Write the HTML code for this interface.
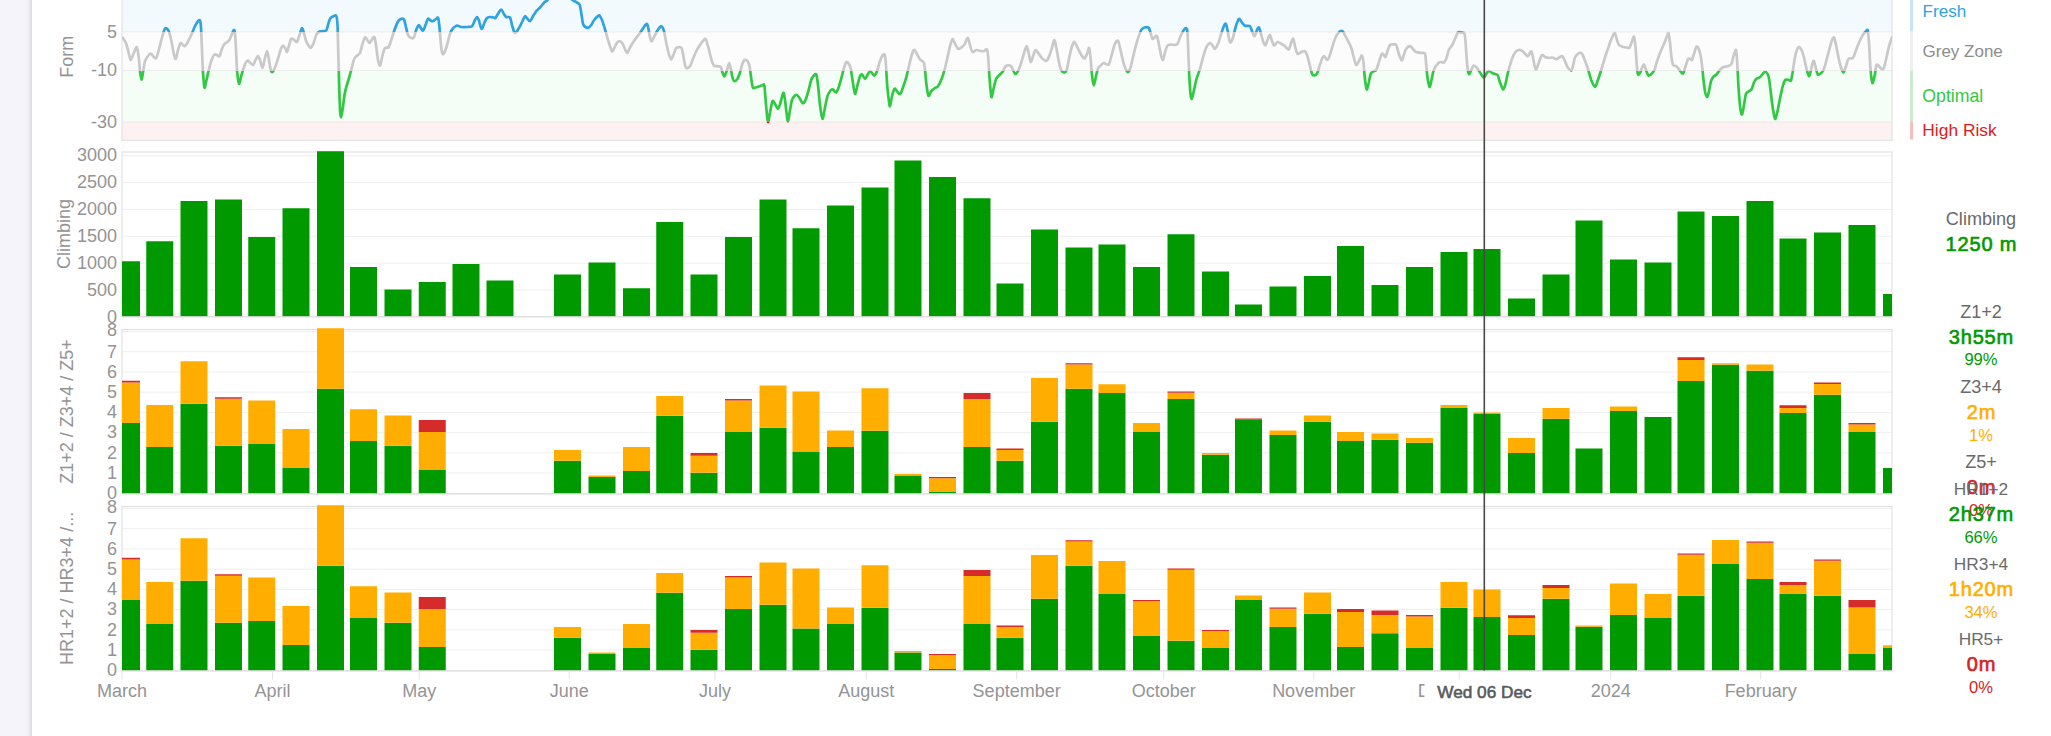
<!DOCTYPE html>
<html lang="en"><head><meta charset="utf-8"><title>Fitness</title>
<style>html,body{margin:0;padding:0;background:#fff;overflow:hidden}svg{display:block}</style>
</head><body>
<svg width="2051" height="736" viewBox="0 0 2051 736" font-family="'Liberation Sans', Arial, sans-serif">
<defs>
<linearGradient id="sb" x1="0" x2="1" y1="0" y2="0"><stop offset="0" stop-color="#f4f4fa"/><stop offset="0.55" stop-color="#eeedf3"/><stop offset="1" stop-color="#dbdae0"/></linearGradient>
<linearGradient id="fl" gradientUnits="userSpaceOnUse" x1="0" y1="0" x2="0" y2="140">
<stop offset="0" stop-color="#2ea3de"/><stop offset="0.2268" stop-color="#2ea3de"/>
<stop offset="0.2268" stop-color="#c9c9c9"/><stop offset="0.5036" stop-color="#c9c9c9"/>
<stop offset="0.5036" stop-color="#33c844"/><stop offset="0.8714" stop-color="#33c844"/>
<stop offset="0.8714" stop-color="#e02020"/><stop offset="1" stop-color="#e02020"/>
</linearGradient>
<clipPath id="cf"><rect x="122" y="0" width="1770" height="140"/></clipPath>
<clipPath id="cc"><rect x="122" y="150" width="1770" height="167"/></clipPath>
<clipPath id="cz"><rect x="122" y="327" width="1770" height="167"/></clipPath>
<clipPath id="ch"><rect x="122" y="504" width="1770" height="167"/></clipPath>
</defs>
<rect width="2051" height="736" fill="#fff"/>
<rect x="0" y="0" width="25" height="736" fill="#f4f4fa"/>
<rect x="25" y="0" width="7" height="736" fill="url(#sb)"/>
<g id="form">
<rect x="122.0" y="0" width="1770.0" height="31.75" fill="#f3fafe"/>
<rect x="122.0" y="31.75" width="1770.0" height="38.75" fill="#fcfcfc"/>
<rect x="122.0" y="70.5" width="1770.0" height="51.5" fill="#f4fdf6"/>
<rect x="122.0" y="122" width="1770.0" height="18" fill="#fdf2f1"/>
<rect x="122.0" y="31.4" width="1770.0" height="1" fill="#ebecec"/>
<rect x="122.0" y="70.1" width="1770.0" height="1" fill="#e9eeea"/>
<rect x="122.0" y="121.6" width="1770.0" height="1" fill="#f0e6e5"/>
<rect x="121.5" y="0" width="1" height="140.5" fill="#dedede"/>
<rect x="1891.5" y="0" width="1" height="140.5" fill="#dedede"/>
<rect x="121.5" y="139.75" width="1771.0" height="1" fill="#dedede"/>
<path d="M122.5,37.5 C123.0,38.4 125.2,40.8 126.2,43.8 C127.3,46.7 129.3,55.8 130.0,58.0 C130.7,60.2 130.5,60.4 131.2,59.2 C132.0,58.1 134.2,51.7 135.0,50.0 C135.8,48.3 136.5,46.4 137.0,47.5 C137.5,48.6 138.3,54.1 138.8,57.5 C139.2,60.9 139.6,68.1 140.0,71.2 C140.4,74.4 141.1,79.3 141.5,79.5 C141.9,79.7 142.5,75.1 143.0,72.5 C143.5,69.9 144.2,63.7 145.0,61.2 C145.8,58.8 147.9,56.1 148.8,55.0 C149.6,53.9 150.5,53.5 151.2,53.8 C152.0,54.0 153.0,56.4 153.8,57.0 C154.5,57.6 155.5,59.0 156.2,58.0 C157.0,57.0 157.9,52.9 158.8,50.0 C159.6,47.1 161.2,40.4 162.0,37.5 C162.8,34.6 163.9,30.8 164.5,29.5 C165.1,28.2 165.6,28.0 166.2,28.2 C166.9,28.5 168.0,29.6 168.8,31.2 C169.5,32.9 170.5,36.8 171.2,40.0 C172.0,43.2 173.1,51.1 173.8,53.8 C174.4,56.4 175.1,59.3 175.8,58.8 C176.4,58.2 177.3,52.2 178.0,50.0 C178.7,47.8 179.9,43.8 180.5,43.0 C181.1,42.2 181.9,44.0 182.5,44.5 C183.1,45.0 184.3,46.5 185.0,46.2 C185.7,46.0 186.6,44.1 187.5,42.5 C188.4,40.9 190.2,37.3 191.2,35.0 C192.3,32.7 194.0,28.2 195.0,26.2 C196.0,24.3 197.3,22.1 198.0,21.2 C198.7,20.4 199.6,19.6 200.0,20.5 C200.4,21.4 200.7,23.3 201.0,27.5 C201.3,31.7 201.7,43.6 202.0,50.0 C202.3,56.4 202.6,67.2 203.0,72.5 C203.4,77.8 204.0,86.3 204.5,87.5 C205.0,88.7 205.6,83.7 206.2,81.2 C206.9,78.8 207.9,73.2 208.8,70.0 C209.6,66.8 211.2,60.9 212.0,58.8 C212.8,56.6 213.8,55.0 214.5,54.5 C215.2,54.0 216.3,54.8 217.0,55.0 C217.7,55.2 218.8,57.1 219.5,56.2 C220.2,55.4 221.3,50.5 222.0,48.8 C222.7,47.0 223.7,44.7 224.5,43.8 C225.3,42.8 226.7,42.7 227.5,42.0 C228.3,41.3 229.3,40.1 230.0,38.8 C230.7,37.4 231.9,33.7 232.5,32.5 C233.1,31.3 234.0,28.7 234.5,30.5 C235.0,32.3 235.4,39.4 235.8,45.0 C236.1,50.6 236.5,64.5 237.0,70.0 C237.5,75.5 238.4,82.9 239.0,83.8 C239.6,84.6 240.6,78.6 241.2,76.2 C241.9,73.9 243.0,69.5 243.8,67.5 C244.5,65.5 245.6,63.0 246.2,62.0 C246.9,61.0 247.5,60.4 248.0,60.5 C248.5,60.6 249.3,61.9 250.0,62.5 C250.7,63.1 252.2,65.4 253.0,65.0 C253.8,64.6 254.8,61.2 255.5,60.0 C256.2,58.8 257.4,56.2 258.0,56.2 C258.6,56.2 259.4,58.3 260.0,60.0 C260.6,61.7 261.9,68.0 262.5,68.0 C263.1,68.0 263.9,62.4 264.5,60.0 C265.1,57.6 266.4,51.4 267.0,51.2 C267.6,51.1 268.2,56.1 268.8,58.8 C269.3,61.4 270.2,68.1 270.8,70.0 C271.3,71.9 271.9,72.4 272.5,72.0 C273.1,71.6 274.2,69.4 275.0,67.5 C275.8,65.6 277.2,61.2 278.0,58.8 C278.8,56.3 279.8,51.9 280.5,50.0 C281.2,48.1 282.3,45.7 283.0,45.5 C283.7,45.3 284.9,47.9 285.5,48.8 C286.1,49.6 286.4,52.5 287.0,51.8 C287.6,51.0 288.9,45.6 289.5,43.8 C290.1,41.9 290.6,39.4 291.2,38.8 C291.9,38.1 292.9,39.0 293.8,39.5 C294.6,40.0 296.2,42.6 297.0,42.0 C297.8,41.4 298.8,36.9 299.5,35.0 C300.2,33.1 301.4,28.6 302.0,28.2 C302.6,27.9 303.1,30.7 303.8,32.5 C304.4,34.3 305.4,39.2 306.2,41.2 C307.1,43.3 308.8,46.1 309.5,47.0 C310.2,47.9 310.6,48.1 311.2,47.5 C311.9,46.9 313.0,44.3 313.8,42.5 C314.5,40.7 315.5,36.5 316.2,35.0 C317.0,33.5 317.9,32.5 318.8,32.0 C319.6,31.5 321.4,31.5 322.5,31.2 C323.6,31.0 325.5,31.4 326.2,30.5 C327.0,29.6 327.5,26.7 328.0,25.0 C328.5,23.3 329.4,19.9 330.0,18.8 C330.6,17.6 331.6,17.2 332.5,16.8 C333.4,16.3 335.5,14.6 336.2,15.8 C337.0,16.9 337.2,20.1 337.5,25.0 C337.8,29.9 338.0,41.1 338.2,50.0 C338.5,58.9 339.0,79.0 339.2,87.5 C339.5,96.0 339.8,105.8 340.0,110.0 C340.2,114.2 340.6,117.5 341.0,117.5 C341.4,117.5 342.0,113.2 342.5,110.0 C343.0,106.8 344.0,98.2 344.5,95.0 C345.0,91.8 345.6,89.8 346.2,87.5 C346.9,85.2 348.0,81.2 348.8,78.8 C349.5,76.3 350.5,72.7 351.2,70.0 C352.0,67.3 353.0,61.9 353.8,60.0 C354.5,58.1 355.4,57.2 356.2,56.2 C357.1,55.3 359.1,54.8 360.0,53.0 C360.9,51.2 361.8,45.9 362.5,43.8 C363.2,41.6 364.4,38.1 365.0,37.5 C365.6,36.9 366.4,38.7 367.0,39.5 C367.6,40.3 368.8,43.0 369.5,43.0 C370.2,43.0 371.3,40.4 372.0,39.5 C372.7,38.6 373.7,36.4 374.2,37.0 C374.8,37.6 375.2,40.5 375.8,43.8 C376.3,47.0 377.4,56.9 378.0,60.0 C378.6,63.1 379.4,65.9 380.0,65.5 C380.6,65.1 381.4,59.9 382.0,57.5 C382.6,55.1 383.8,50.2 384.5,48.8 C385.2,47.3 386.4,47.7 387.0,47.5 C387.6,47.3 388.1,48.1 388.8,47.0 C389.4,45.9 390.4,42.4 391.2,40.0 C392.1,37.6 393.6,32.5 394.5,30.0 C395.4,27.5 396.7,24.0 397.5,22.5 C398.3,21.0 399.1,20.0 400.0,19.5 C400.9,19.0 403.0,18.5 403.8,19.2 C404.5,20.0 404.9,22.8 405.5,25.0 C406.1,27.2 407.2,33.2 408.0,35.0 C408.8,36.8 410.4,37.6 411.2,38.0 C412.1,38.4 413.0,38.6 413.8,37.5 C414.5,36.4 415.5,31.8 416.2,30.0 C417.0,28.2 418.0,25.2 418.8,25.0 C419.5,24.8 420.6,28.0 421.2,28.8 C421.9,29.5 422.6,31.0 423.2,30.5 C423.9,30.0 424.8,26.7 425.5,25.0 C426.2,23.3 427.3,19.4 428.0,18.8 C428.7,18.1 429.8,20.1 430.5,20.5 C431.2,20.9 432.2,21.5 433.0,21.2 C433.8,21.0 435.5,19.2 436.2,18.8 C437.0,18.3 437.8,16.8 438.2,18.0 C438.7,19.2 439.1,23.7 439.5,27.5 C439.9,31.3 440.6,41.3 441.0,45.0 C441.4,48.7 442.0,52.7 442.5,53.8 C443.0,54.8 443.9,53.7 444.5,52.5 C445.1,51.3 446.2,47.7 447.0,45.0 C447.8,42.3 449.2,36.1 450.0,33.8 C450.8,31.4 451.6,29.9 452.5,28.8 C453.4,27.6 455.5,26.2 456.2,25.8 C457.0,25.3 457.3,25.6 458.0,25.8 C458.7,25.9 459.9,26.8 461.2,27.0 C462.6,27.2 466.0,27.1 467.5,27.0 C469.0,26.9 470.9,27.2 472.0,26.2 C473.1,25.3 474.3,21.3 475.0,20.0 C475.7,18.7 476.5,17.0 477.0,17.0 C477.5,17.0 478.3,18.7 478.8,20.0 C479.2,21.3 480.0,25.0 480.5,26.2 C481.0,27.5 481.4,29.3 482.0,28.8 C482.6,28.2 483.8,24.0 484.5,22.5 C485.2,21.0 486.2,18.8 487.0,18.0 C487.8,17.2 489.0,17.1 490.0,17.0 C491.0,16.9 493.0,17.4 493.8,17.5 C494.5,17.6 494.9,18.5 495.5,18.0 C496.1,17.5 497.2,15.0 498.0,13.8 C498.8,12.5 500.4,9.5 501.2,9.5 C502.1,9.5 503.0,12.7 503.8,13.8 C504.5,14.8 505.4,16.5 506.2,17.0 C507.1,17.5 509.2,16.4 510.0,17.5 C510.8,18.6 511.4,22.9 512.0,25.0 C512.6,27.1 513.8,31.6 514.5,32.5 C515.2,33.4 516.2,32.1 517.0,31.2 C517.8,30.4 519.1,27.8 520.0,26.2 C520.9,24.7 522.3,21.4 523.0,20.0 C523.7,18.6 524.4,16.4 525.0,16.2 C525.6,16.1 526.8,18.0 527.5,18.8 C528.2,19.5 529.2,21.6 530.0,21.2 C530.8,20.9 532.1,17.7 533.0,16.2 C533.9,14.8 535.3,12.5 536.2,11.2 C537.2,10.0 538.9,8.7 540.0,7.5 C541.1,6.3 542.7,4.1 543.8,3.0 C544.8,1.9 546.1,1.5 547.5,0.0 C548.9,-1.5 551.3,-6.4 553.8,-7.5 C556.2,-8.6 562.3,-8.6 565.0,-7.5 C567.7,-6.4 570.9,-1.3 572.5,0.0 C574.1,1.3 575.3,1.4 576.2,2.0 C577.2,2.6 578.8,3.0 579.5,4.5 C580.2,6.0 580.8,9.8 581.2,12.5 C581.7,15.2 582.4,21.7 583.0,23.8 C583.6,25.8 584.7,26.5 585.5,27.0 C586.3,27.5 587.9,27.8 588.8,27.5 C589.6,27.2 590.4,26.1 591.2,25.0 C592.1,23.9 593.4,20.8 594.5,19.5 C595.6,18.2 598.0,16.0 598.8,15.5 C599.5,15.0 599.5,15.4 600.0,16.2 C600.5,17.1 601.7,19.1 602.5,21.2 C603.3,23.4 604.6,28.2 605.5,31.2 C606.4,34.3 607.8,39.7 608.8,42.5 C609.7,45.3 611.2,50.5 612.0,51.2 C612.8,52.0 613.7,48.8 614.5,47.5 C615.3,46.2 616.5,42.8 617.5,42.0 C618.5,41.2 620.4,41.1 621.2,41.8 C622.1,42.4 622.9,44.7 623.8,46.2 C624.6,47.8 626.1,52.8 627.0,53.0 C627.9,53.2 629.0,49.2 630.0,47.5 C631.0,45.8 632.7,42.8 633.8,41.2 C634.8,39.7 636.4,37.7 637.5,36.2 C638.6,34.8 640.3,32.7 641.2,31.2 C642.2,29.8 643.7,27.3 644.5,26.2 C645.3,25.2 646.2,23.6 646.8,23.8 C647.3,23.9 647.9,25.9 648.2,27.5 C648.6,29.1 649.1,33.1 649.5,35.0 C649.9,36.9 650.6,40.9 651.2,41.2 C651.9,41.6 652.9,38.9 653.8,37.5 C654.6,36.1 656.1,32.7 657.0,31.2 C657.9,29.8 659.3,27.6 660.0,27.0 C660.7,26.4 661.4,26.1 662.0,26.8 C662.6,27.4 663.4,29.0 664.0,31.2 C664.6,33.5 665.6,39.3 666.2,42.5 C666.9,45.7 668.0,51.3 668.8,53.8 C669.5,56.2 670.5,59.5 671.2,59.5 C672.0,59.5 673.0,55.4 673.8,53.8 C674.5,52.1 675.2,48.9 676.2,48.0 C677.3,47.1 680.3,46.7 681.2,47.5 C682.2,48.3 682.5,51.6 683.0,53.8 C683.5,55.9 684.0,60.5 684.5,62.5 C685.0,64.5 685.5,67.5 686.2,68.0 C687.0,68.5 689.0,67.6 690.0,66.2 C691.0,64.9 692.1,60.9 693.0,58.8 C693.9,56.6 695.3,53.2 696.2,51.2 C697.2,49.3 698.9,46.6 700.0,45.0 C701.1,43.4 702.9,40.8 703.8,40.0 C704.6,39.2 705.1,38.4 705.8,39.2 C706.4,40.1 707.2,43.5 708.0,46.2 C708.8,49.0 710.4,56.0 711.2,58.8 C712.1,61.5 712.9,64.4 713.8,65.5 C714.6,66.6 716.5,66.0 717.5,66.2 C718.5,66.5 720.0,66.1 720.8,67.0 C721.5,67.9 722.0,71.2 722.5,72.5 C723.0,73.8 723.9,76.6 724.5,76.2 C725.1,75.9 726.3,71.9 727.0,70.0 C727.7,68.1 728.7,63.0 729.2,63.0 C729.8,63.0 730.5,67.9 731.0,70.0 C731.5,72.1 732.0,75.9 732.5,77.5 C733.0,79.1 733.5,81.1 734.2,81.2 C735.0,81.4 736.7,80.0 737.5,78.8 C738.3,77.5 739.4,74.4 740.0,72.5 C740.6,70.6 741.4,66.8 742.0,65.0 C742.6,63.2 743.7,60.5 744.5,60.0 C745.3,59.5 746.8,60.4 747.5,61.2 C748.2,62.1 749.0,64.3 749.5,66.2 C750.0,68.2 750.4,72.5 750.8,75.0 C751.1,77.5 751.6,81.9 752.0,83.8 C752.4,85.6 752.5,87.5 753.2,88.0 C754.0,88.5 756.3,87.4 757.5,87.0 C758.7,86.6 761.0,85.8 762.0,85.5 C763.0,85.2 763.8,83.7 764.2,85.0 C764.7,86.3 764.9,91.5 765.2,95.0 C765.6,98.5 766.1,106.2 766.5,110.0 C766.9,113.8 767.5,121.6 768.0,122.0 C768.5,122.4 769.4,115.4 770.0,112.5 C770.6,109.6 771.8,102.5 772.5,101.2 C773.2,100.0 774.2,102.7 775.0,103.8 C775.8,104.8 777.2,108.9 778.0,108.8 C778.8,108.6 779.9,104.4 780.5,102.5 C781.1,100.6 782.0,96.3 782.5,95.0 C783.0,93.7 783.4,92.3 783.8,93.0 C784.1,93.7 784.6,97.2 785.0,100.0 C785.4,102.8 786.1,109.5 786.5,112.5 C786.9,115.5 787.5,121.6 788.0,121.2 C788.5,120.9 789.4,113.0 790.0,110.0 C790.6,107.0 791.3,102.1 792.0,100.0 C792.7,97.9 794.3,96.2 795.0,95.5 C795.7,94.8 796.4,94.6 797.0,95.0 C797.6,95.4 798.7,96.9 799.5,98.0 C800.3,99.1 801.7,102.5 802.5,103.0 C803.3,103.5 804.2,102.7 805.0,101.2 C805.8,99.8 807.1,95.5 808.0,92.5 C808.9,89.5 810.4,82.4 811.2,80.0 C812.1,77.6 813.0,76.3 813.8,75.5 C814.5,74.7 815.6,73.2 816.2,74.5 C816.9,75.8 817.5,80.7 818.0,85.0 C818.5,89.3 819.4,100.2 820.0,105.0 C820.6,109.8 821.8,118.4 822.5,118.8 C823.2,119.1 824.3,110.7 825.0,107.5 C825.7,104.3 826.7,98.7 827.5,96.2 C828.3,93.8 829.7,91.5 830.5,90.5 C831.3,89.5 832.2,89.2 833.0,89.5 C833.8,89.8 835.4,92.9 836.2,92.5 C837.1,92.1 838.0,88.9 838.8,87.0 C839.5,85.1 840.5,81.3 841.2,78.8 C842.0,76.2 843.0,71.1 843.8,68.8 C844.5,66.4 845.5,62.7 846.2,62.0 C847.0,61.3 848.1,62.8 848.8,63.8 C849.4,64.7 850.2,66.4 850.8,68.8 C851.3,71.1 851.9,76.5 852.5,80.0 C853.1,83.5 854.3,93.0 855.0,93.8 C855.7,94.5 856.8,87.5 857.5,85.0 C858.2,82.5 859.4,77.7 860.0,76.2 C860.6,74.8 861.3,74.1 862.0,74.5 C862.7,74.9 864.2,78.7 865.0,78.8 C865.8,78.8 866.8,76.1 867.5,75.0 C868.2,73.9 869.3,71.4 870.0,71.2 C870.7,71.1 871.9,73.1 872.5,73.8 C873.1,74.4 873.9,75.9 874.5,75.5 C875.1,75.1 876.3,73.1 877.0,71.2 C877.7,69.4 878.8,64.6 879.5,62.5 C880.2,60.4 881.3,57.4 882.0,56.2 C882.7,55.1 884.0,53.6 884.5,54.5 C885.0,55.4 885.4,58.5 885.8,62.5 C886.1,66.5 886.6,77.2 887.0,82.5 C887.4,87.8 888.3,96.6 888.8,100.0 C889.2,103.4 889.5,106.8 890.0,106.2 C890.5,105.7 891.4,98.7 892.0,96.2 C892.6,93.8 893.8,89.5 894.5,88.8 C895.2,88.0 896.2,90.5 897.0,91.2 C897.8,92.0 899.1,94.8 900.0,94.2 C900.9,93.7 902.1,89.9 903.0,87.5 C903.9,85.1 905.3,80.9 906.2,77.5 C907.2,74.1 908.6,67.3 909.5,63.8 C910.4,60.2 911.8,54.4 912.5,52.5 C913.2,50.6 913.8,49.6 914.5,50.0 C915.2,50.4 916.7,53.7 917.5,55.0 C918.3,56.3 919.1,58.4 920.0,59.5 C920.9,60.6 923.0,61.0 923.8,62.5 C924.5,64.0 924.6,66.8 925.0,70.0 C925.4,73.2 926.0,81.4 926.5,85.0 C927.0,88.6 927.8,94.9 928.5,95.8 C929.2,96.6 930.3,92.3 931.2,91.2 C932.2,90.2 934.0,88.7 935.0,88.0 C936.0,87.3 937.1,87.4 938.0,86.2 C938.9,85.1 940.3,82.3 941.2,80.0 C942.2,77.7 943.6,73.2 944.5,70.0 C945.4,66.8 946.7,60.9 947.5,57.5 C948.3,54.1 949.3,48.8 950.0,46.2 C950.7,43.7 951.8,39.6 952.5,39.2 C953.2,38.9 954.2,42.4 955.0,43.8 C955.8,45.1 957.1,48.2 958.0,48.8 C958.9,49.3 960.3,48.1 961.2,47.5 C962.2,46.9 963.8,45.5 964.5,44.5 C965.2,43.5 965.8,41.4 966.2,40.5 C966.7,39.6 967.5,37.4 968.0,38.0 C968.5,38.6 969.4,43.0 970.0,45.0 C970.6,47.0 971.6,51.3 972.5,52.0 C973.4,52.7 975.2,50.2 976.2,50.0 C977.3,49.8 978.9,50.6 980.0,50.8 C981.1,50.9 982.8,51.4 983.8,51.2 C984.7,51.1 986.4,48.6 987.0,49.5 C987.6,50.4 987.9,53.5 988.2,57.5 C988.6,61.5 989.1,72.5 989.5,77.5 C989.9,82.5 990.4,89.7 990.8,92.5 C991.1,95.3 991.3,97.7 991.8,97.0 C992.2,96.3 993.1,90.1 993.8,87.5 C994.4,84.9 995.4,80.6 996.2,78.8 C997.1,76.9 999.0,75.6 1000.0,74.5 C1001.0,73.4 1002.2,72.4 1003.0,71.2 C1003.8,70.1 1004.5,67.1 1005.5,66.2 C1006.5,65.4 1009.1,65.3 1010.0,65.5 C1010.9,65.7 1011.3,66.3 1012.0,67.5 C1012.7,68.7 1014.1,73.2 1015.0,73.8 C1015.9,74.3 1017.1,72.8 1018.0,71.2 C1018.9,69.7 1020.4,65.2 1021.2,62.5 C1022.1,59.8 1023.5,54.8 1024.2,52.5 C1025.0,50.2 1026.1,46.1 1026.8,46.2 C1027.4,46.4 1028.2,51.5 1028.8,53.8 C1029.3,56.0 1030.1,61.6 1030.8,62.0 C1031.4,62.4 1032.3,58.0 1033.0,56.2 C1033.7,54.5 1034.7,50.4 1035.5,50.0 C1036.3,49.6 1037.8,52.5 1038.8,53.8 C1039.7,55.0 1041.4,57.8 1042.5,58.8 C1043.6,59.7 1045.3,61.1 1046.2,60.8 C1047.2,60.4 1048.4,58.1 1049.2,56.2 C1050.1,54.4 1051.3,49.8 1052.0,47.5 C1052.7,45.2 1053.9,39.8 1054.5,40.0 C1055.1,40.2 1055.9,45.7 1056.5,48.8 C1057.1,51.8 1058.1,58.2 1058.8,61.2 C1059.4,64.3 1060.4,68.4 1061.2,70.0 C1062.1,71.6 1063.7,72.7 1064.5,72.5 C1065.3,72.3 1066.3,71.1 1067.0,68.8 C1067.7,66.4 1068.8,59.4 1069.5,56.2 C1070.2,53.1 1071.3,48.3 1072.0,46.2 C1072.7,44.2 1073.6,41.8 1074.2,41.8 C1074.9,41.8 1075.9,44.7 1076.8,46.2 C1077.6,47.8 1079.1,50.9 1080.0,52.5 C1080.9,54.1 1082.3,56.7 1083.0,57.5 C1083.7,58.3 1084.4,58.7 1085.0,58.0 C1085.6,57.3 1086.9,53.9 1087.5,52.5 C1088.1,51.1 1088.8,46.9 1089.2,48.0 C1089.7,49.1 1090.4,56.2 1090.8,60.0 C1091.1,63.8 1091.6,71.4 1092.0,75.0 C1092.4,78.6 1093.1,85.5 1093.8,85.5 C1094.4,85.5 1095.6,77.5 1096.2,75.0 C1096.9,72.5 1097.7,69.2 1098.2,68.0 C1098.8,66.8 1099.2,67.0 1100.0,66.2 C1100.8,65.5 1102.5,63.2 1103.8,63.0 C1105.0,62.8 1107.6,65.8 1108.8,64.5 C1109.9,63.2 1111.1,56.7 1112.0,53.8 C1112.9,50.8 1114.2,45.6 1115.0,43.8 C1115.8,41.9 1117.2,39.9 1118.0,40.8 C1118.8,41.6 1119.7,46.7 1120.5,50.0 C1121.3,53.3 1122.9,60.9 1123.8,63.8 C1124.6,66.6 1125.6,68.8 1126.2,70.0 C1126.9,71.2 1127.6,72.4 1128.2,72.0 C1128.9,71.6 1129.7,70.1 1130.5,67.5 C1131.3,64.9 1132.8,57.6 1133.8,53.8 C1134.7,49.9 1136.4,43.4 1137.5,40.0 C1138.6,36.6 1140.3,31.8 1141.2,30.0 C1142.2,28.2 1143.4,27.8 1144.5,27.5 C1145.6,27.2 1147.9,27.1 1148.8,28.0 C1149.6,28.9 1150.2,32.2 1150.8,33.8 C1151.3,35.3 1151.9,38.3 1152.5,38.8 C1153.1,39.2 1154.4,37.4 1155.0,37.0 C1155.6,36.6 1156.4,35.1 1157.0,36.2 C1157.6,37.4 1158.4,42.2 1159.0,45.0 C1159.6,47.8 1160.7,54.1 1161.2,56.2 C1161.8,58.4 1162.5,60.5 1163.0,60.0 C1163.5,59.5 1164.4,54.6 1165.0,52.5 C1165.6,50.4 1166.6,46.6 1167.5,45.5 C1168.4,44.4 1170.2,44.6 1171.2,44.5 C1172.3,44.4 1174.1,45.1 1175.0,45.0 C1175.9,44.9 1176.7,45.0 1177.5,43.8 C1178.3,42.5 1179.6,38.2 1180.5,36.2 C1181.4,34.3 1182.9,31.1 1183.8,30.0 C1184.6,28.9 1185.7,27.9 1186.2,28.2 C1186.8,28.6 1187.2,29.4 1187.5,32.5 C1187.8,35.6 1188.0,44.0 1188.2,50.0 C1188.5,56.0 1188.9,68.8 1189.2,75.0 C1189.6,81.2 1190.1,90.4 1190.5,93.8 C1190.9,97.1 1191.3,99.1 1191.8,98.8 C1192.2,98.4 1193.1,93.9 1193.8,91.2 C1194.4,88.6 1195.4,83.2 1196.2,80.0 C1197.1,76.8 1199.0,71.9 1200.0,68.8 C1201.0,65.6 1202.1,60.5 1203.0,57.5 C1203.9,54.5 1205.3,49.6 1206.2,47.5 C1207.2,45.4 1209.1,43.3 1210.0,43.0 C1210.9,42.7 1211.8,44.7 1212.5,45.5 C1213.2,46.3 1214.2,49.0 1215.0,48.8 C1215.8,48.5 1217.1,45.9 1218.0,43.8 C1218.9,41.6 1220.4,36.2 1221.2,33.8 C1222.1,31.3 1223.1,27.7 1223.8,26.2 C1224.4,24.8 1225.2,23.2 1225.8,23.8 C1226.3,24.3 1227.0,27.9 1227.5,30.0 C1228.0,32.1 1228.6,37.0 1229.0,38.8 C1229.4,40.5 1229.9,42.7 1230.5,42.5 C1231.1,42.3 1232.3,39.6 1233.0,37.5 C1233.7,35.4 1234.8,29.9 1235.5,27.5 C1236.2,25.1 1237.4,21.7 1238.0,20.5 C1238.6,19.3 1238.9,18.7 1239.5,19.0 C1240.1,19.3 1241.2,21.5 1242.0,22.5 C1242.8,23.5 1243.9,25.2 1245.0,25.8 C1246.1,26.3 1249.0,25.5 1250.0,26.2 C1251.0,27.0 1251.4,29.8 1252.0,31.2 C1252.6,32.7 1253.8,36.4 1254.5,36.2 C1255.2,36.1 1256.4,31.2 1257.0,30.0 C1257.6,28.8 1258.4,26.8 1259.0,27.5 C1259.6,28.2 1260.6,32.8 1261.2,35.0 C1261.9,37.2 1263.1,41.6 1263.8,43.0 C1264.4,44.4 1264.9,45.6 1265.5,45.0 C1266.1,44.4 1267.4,40.2 1268.0,38.8 C1268.6,37.3 1269.4,34.6 1270.0,35.0 C1270.6,35.4 1271.4,39.8 1272.0,41.2 C1272.6,42.7 1273.5,45.4 1274.2,45.5 C1275.0,45.6 1276.5,42.2 1277.5,42.0 C1278.5,41.8 1280.2,43.1 1281.2,43.8 C1282.3,44.4 1283.9,45.4 1285.0,46.2 C1286.1,47.1 1287.9,50.0 1288.8,49.5 C1289.6,49.0 1290.6,44.0 1291.2,42.5 C1291.9,41.0 1292.7,38.2 1293.2,38.8 C1293.8,39.3 1294.4,44.1 1295.0,46.2 C1295.6,48.4 1296.6,52.9 1297.5,53.8 C1298.4,54.6 1300.2,52.4 1301.2,52.0 C1302.3,51.6 1304.1,50.6 1305.0,51.2 C1305.9,51.9 1306.8,54.1 1307.5,56.2 C1308.2,58.4 1309.4,63.8 1310.0,66.2 C1310.6,68.7 1311.5,72.4 1312.0,73.8 C1312.5,75.1 1313.0,75.5 1313.8,75.5 C1314.5,75.5 1316.2,75.1 1317.0,73.8 C1317.8,72.4 1318.8,68.4 1319.5,66.2 C1320.2,64.1 1321.3,60.2 1322.0,58.8 C1322.7,57.3 1323.5,56.1 1324.2,56.2 C1325.0,56.4 1326.3,60.0 1327.0,60.0 C1327.7,60.0 1328.7,58.2 1329.5,56.2 C1330.3,54.3 1331.7,48.9 1332.5,46.2 C1333.3,43.6 1334.6,39.4 1335.5,37.5 C1336.4,35.6 1337.8,33.4 1338.8,32.5 C1339.7,31.6 1341.5,30.7 1342.5,31.2 C1343.5,31.8 1344.6,34.7 1345.5,36.2 C1346.4,37.8 1347.9,40.9 1348.8,42.5 C1349.6,44.1 1350.5,45.4 1351.2,47.5 C1352.0,49.6 1353.0,55.0 1353.8,57.5 C1354.5,60.0 1355.4,64.6 1356.2,65.0 C1357.1,65.4 1358.7,61.3 1359.5,60.0 C1360.3,58.7 1361.4,55.1 1362.0,55.5 C1362.6,55.9 1363.1,59.7 1363.5,62.5 C1363.9,65.3 1364.2,71.8 1364.5,75.0 C1364.8,78.2 1365.4,82.9 1365.8,85.0 C1366.1,87.1 1366.6,89.9 1367.0,89.5 C1367.4,89.1 1368.2,84.7 1368.8,82.5 C1369.3,80.3 1370.0,75.3 1370.8,73.8 C1371.5,72.2 1373.0,71.8 1373.8,71.2 C1374.5,70.7 1375.5,71.2 1376.2,70.0 C1377.0,68.8 1378.0,64.6 1378.8,62.5 C1379.5,60.4 1380.6,56.2 1381.2,55.0 C1381.9,53.8 1382.4,53.5 1383.0,53.8 C1383.6,54.0 1384.9,57.4 1385.5,57.0 C1386.1,56.6 1386.9,53.0 1387.5,51.2 C1388.1,49.5 1389.1,46.0 1390.0,45.0 C1390.9,44.0 1392.9,44.5 1393.8,44.5 C1394.6,44.5 1395.5,43.7 1396.2,45.0 C1397.0,46.3 1398.0,51.6 1398.8,53.8 C1399.5,55.9 1401.0,60.3 1401.8,60.5 C1402.5,60.7 1403.1,56.7 1403.8,55.0 C1404.4,53.3 1405.4,50.0 1406.2,48.8 C1407.1,47.5 1408.9,46.1 1410.0,46.2 C1411.1,46.4 1412.9,49.2 1413.8,50.0 C1414.6,50.8 1415.2,51.6 1416.2,52.0 C1417.3,52.4 1420.0,52.8 1421.2,53.0 C1422.5,53.2 1424.3,52.0 1425.0,53.8 C1425.7,55.5 1425.9,61.6 1426.2,65.0 C1426.6,68.4 1427.0,74.4 1427.5,77.5 C1428.0,80.6 1428.9,86.6 1429.5,87.0 C1430.1,87.4 1430.9,82.4 1431.5,80.0 C1432.1,77.6 1432.9,72.3 1433.8,70.0 C1434.6,67.7 1436.5,64.9 1437.5,63.8 C1438.5,62.6 1439.6,62.2 1440.5,62.0 C1441.4,61.8 1442.9,63.0 1443.8,62.5 C1444.6,62.0 1445.5,60.5 1446.2,58.8 C1447.0,57.0 1447.9,52.0 1448.8,50.0 C1449.6,48.0 1451.6,46.1 1452.5,44.5 C1453.4,42.9 1454.2,40.5 1455.0,38.8 C1455.8,37.0 1457.1,33.4 1458.0,32.5 C1458.9,31.6 1460.3,32.3 1461.2,32.5 C1462.2,32.7 1463.9,32.0 1464.5,33.8 C1465.1,35.5 1465.4,40.9 1465.8,45.0 C1466.1,49.1 1466.6,58.6 1467.0,62.5 C1467.4,66.4 1467.9,70.9 1468.2,72.5 C1468.6,74.1 1469.0,74.3 1469.5,73.8 C1470.0,73.2 1471.1,69.9 1471.8,68.8 C1472.4,67.6 1473.0,65.6 1473.8,65.5 C1474.5,65.4 1476.1,67.0 1477.0,68.0 C1477.9,69.0 1479.0,71.2 1480.0,72.5 C1481.0,73.8 1482.9,77.3 1483.8,77.5 C1484.6,77.7 1485.5,74.7 1486.2,73.8 C1487.0,72.8 1487.9,70.8 1488.8,70.8 C1489.6,70.7 1491.3,72.6 1492.5,73.2 C1493.7,73.9 1496.4,73.7 1497.5,75.0 C1498.6,76.3 1499.2,80.4 1500.0,82.5 C1500.8,84.6 1502.5,89.3 1503.2,89.5 C1504.0,89.7 1504.8,86.2 1505.5,83.8 C1506.2,81.3 1507.2,75.7 1508.0,72.5 C1508.8,69.3 1510.3,64.1 1511.2,61.2 C1512.2,58.4 1513.9,54.1 1515.0,52.5 C1516.1,50.9 1517.7,50.2 1518.8,50.0 C1519.8,49.8 1521.5,50.6 1522.5,51.2 C1523.5,51.9 1525.0,53.8 1525.8,54.5 C1526.5,55.2 1527.2,56.7 1528.0,56.2 C1528.8,55.8 1530.5,51.1 1531.2,51.2 C1532.0,51.4 1532.5,55.5 1533.0,57.5 C1533.5,59.5 1534.0,63.8 1534.5,65.5 C1535.0,67.2 1535.6,69.9 1536.2,69.5 C1536.9,69.1 1537.9,64.6 1538.8,62.5 C1539.6,60.4 1541.1,55.8 1542.0,55.0 C1542.9,54.2 1544.0,56.6 1545.0,57.0 C1546.0,57.4 1547.7,57.9 1548.8,58.0 C1549.8,58.1 1551.4,57.3 1552.5,57.5 C1553.6,57.7 1555.2,59.3 1556.2,59.2 C1557.3,59.2 1559.1,57.4 1560.0,57.0 C1560.9,56.6 1561.8,55.6 1562.5,56.2 C1563.2,56.9 1564.3,59.7 1565.0,61.2 C1565.7,62.8 1566.6,65.7 1567.5,67.0 C1568.4,68.3 1570.4,70.8 1571.2,70.5 C1572.1,70.2 1572.7,66.8 1573.2,65.0 C1573.8,63.2 1574.3,59.1 1575.0,57.5 C1575.7,55.9 1577.1,54.4 1578.0,53.8 C1578.9,53.1 1580.4,52.5 1581.2,53.0 C1582.1,53.5 1582.9,55.4 1583.8,57.5 C1584.6,59.6 1586.4,64.3 1587.5,67.5 C1588.6,70.7 1590.2,77.3 1591.2,80.0 C1592.3,82.7 1594.1,86.6 1595.0,86.8 C1595.9,86.9 1596.6,83.6 1597.5,81.2 C1598.4,78.9 1600.2,73.4 1601.2,70.0 C1602.3,66.6 1603.9,60.9 1605.0,57.5 C1606.1,54.1 1607.8,49.1 1608.8,46.2 C1609.7,43.4 1611.2,39.3 1612.0,37.5 C1612.8,35.7 1614.0,32.9 1614.8,33.2 C1615.5,33.6 1616.4,38.3 1617.0,40.0 C1617.6,41.7 1618.2,44.0 1619.0,45.0 C1619.8,46.0 1621.7,46.4 1622.8,46.8 C1623.8,47.1 1625.5,47.4 1626.5,47.5 C1627.5,47.6 1628.7,48.4 1629.5,47.5 C1630.3,46.6 1631.4,42.8 1632.0,41.2 C1632.6,39.7 1633.5,35.9 1634.0,36.8 C1634.5,37.6 1635.1,43.5 1635.5,47.5 C1635.9,51.5 1636.4,61.2 1636.8,65.0 C1637.1,68.8 1637.5,73.4 1638.0,74.5 C1638.5,75.6 1639.6,73.5 1640.2,72.5 C1640.9,71.5 1641.7,68.6 1642.2,67.5 C1642.8,66.4 1643.5,64.1 1644.0,64.5 C1644.5,64.9 1645.4,68.4 1646.0,70.0 C1646.6,71.6 1647.7,75.0 1648.5,75.5 C1649.3,76.0 1650.7,74.5 1651.5,73.8 C1652.3,73.0 1653.7,71.8 1654.5,70.0 C1655.3,68.2 1656.2,63.7 1657.0,61.2 C1657.8,58.8 1659.3,55.0 1660.2,52.5 C1661.2,50.0 1663.1,45.9 1664.0,43.8 C1664.9,41.6 1665.9,39.0 1666.5,37.5 C1667.1,36.0 1668.0,32.5 1668.5,33.2 C1669.0,34.0 1669.6,39.1 1670.0,42.5 C1670.4,45.9 1671.0,54.3 1671.5,57.5 C1672.0,60.7 1672.5,63.8 1673.2,65.0 C1674.0,66.2 1675.6,65.5 1676.5,66.2 C1677.4,67.0 1678.6,68.9 1679.5,70.0 C1680.4,71.1 1681.9,74.1 1682.8,73.8 C1683.6,73.4 1684.5,69.5 1685.2,67.5 C1686.0,65.5 1687.0,60.7 1687.8,59.5 C1688.5,58.3 1689.6,58.7 1690.2,58.8 C1690.9,58.8 1691.5,60.7 1692.0,60.0 C1692.5,59.3 1693.4,55.5 1694.0,53.8 C1694.6,52.0 1695.5,48.5 1696.0,47.5 C1696.5,46.5 1697.1,46.1 1697.8,47.0 C1698.4,47.9 1699.6,51.2 1700.2,53.8 C1700.9,56.3 1701.5,61.3 1702.0,65.0 C1702.5,68.7 1703.0,76.1 1703.5,80.0 C1704.0,83.9 1704.7,90.1 1705.2,92.5 C1705.8,94.9 1706.7,97.2 1707.2,97.0 C1707.8,96.8 1708.5,93.5 1709.0,91.2 C1709.5,89.0 1710.4,83.3 1711.0,81.2 C1711.6,79.2 1712.5,78.0 1713.2,77.0 C1714.0,76.0 1715.5,75.6 1716.5,74.5 C1717.5,73.4 1719.3,70.6 1720.2,69.5 C1721.2,68.4 1722.4,67.5 1723.5,67.0 C1724.6,66.5 1726.6,66.7 1727.8,66.2 C1728.9,65.8 1730.7,65.2 1731.5,63.8 C1732.3,62.3 1732.9,58.2 1733.5,56.2 C1734.1,54.3 1735.5,49.1 1736.0,50.0 C1736.5,50.9 1736.9,57.2 1737.2,62.5 C1737.6,67.8 1738.1,81.1 1738.5,87.5 C1738.9,93.9 1739.8,103.7 1740.2,107.5 C1740.7,111.3 1741.5,114.9 1742.0,114.5 C1742.5,114.1 1743.4,107.9 1744.0,105.0 C1744.6,102.1 1745.3,95.7 1746.0,93.8 C1746.7,91.8 1748.2,91.9 1749.0,91.2 C1749.8,90.6 1750.8,90.7 1751.5,89.5 C1752.2,88.3 1753.3,84.0 1754.0,82.5 C1754.7,81.0 1755.6,79.5 1756.5,78.8 C1757.4,78.0 1759.3,77.8 1760.2,77.0 C1761.2,76.2 1762.7,73.7 1763.5,73.0 C1764.3,72.3 1765.3,71.5 1766.0,72.0 C1766.7,72.5 1767.9,74.1 1768.5,76.2 C1769.1,78.4 1769.8,83.8 1770.2,87.5 C1770.7,91.2 1771.5,98.6 1772.0,102.5 C1772.5,106.4 1773.5,112.7 1774.0,115.0 C1774.5,117.3 1775.0,119.5 1775.5,118.8 C1776.0,118.0 1777.1,113.0 1777.8,110.0 C1778.4,107.0 1779.5,100.9 1780.2,97.5 C1781.0,94.1 1782.0,88.7 1782.8,86.2 C1783.5,83.8 1784.4,80.9 1785.2,80.0 C1786.1,79.1 1788.2,79.9 1789.0,80.0 C1789.8,80.1 1790.5,81.7 1791.0,80.5 C1791.5,79.3 1792.3,74.2 1792.8,71.2 C1793.2,68.3 1794.0,62.8 1794.5,60.0 C1795.0,57.2 1795.9,53.1 1796.5,51.2 C1797.1,49.4 1798.3,47.2 1799.0,47.0 C1799.7,46.8 1800.8,48.5 1801.5,50.0 C1802.2,51.5 1803.3,54.8 1804.0,57.5 C1804.7,60.2 1805.8,66.1 1806.5,68.8 C1807.2,71.4 1808.4,76.1 1809.0,76.2 C1809.6,76.4 1810.5,71.9 1811.0,70.0 C1811.5,68.1 1812.3,63.7 1812.8,62.5 C1813.2,61.3 1813.5,60.4 1814.0,61.2 C1814.5,62.1 1815.5,66.9 1816.0,68.8 C1816.5,70.6 1817.1,73.8 1817.8,74.5 C1818.4,75.2 1819.4,74.4 1820.2,73.8 C1821.1,73.1 1822.6,71.9 1823.5,70.0 C1824.4,68.1 1825.7,63.0 1826.5,60.0 C1827.3,57.0 1828.7,51.6 1829.5,48.8 C1830.3,45.9 1831.4,41.6 1832.0,40.0 C1832.6,38.4 1833.4,36.8 1834.0,37.5 C1834.6,38.2 1835.4,42.2 1836.0,45.0 C1836.6,47.8 1837.8,54.3 1838.5,57.5 C1839.2,60.7 1840.3,65.4 1841.0,67.5 C1841.7,69.6 1842.8,72.7 1843.5,72.5 C1844.2,72.3 1845.3,68.2 1846.0,66.2 C1846.7,64.3 1847.5,59.9 1848.5,58.8 C1849.5,57.6 1851.8,58.9 1852.8,58.0 C1853.7,57.1 1854.4,54.7 1855.2,52.5 C1856.1,50.3 1857.9,45.0 1859.0,42.5 C1860.1,40.0 1861.8,36.6 1862.8,35.0 C1863.7,33.4 1865.3,31.9 1866.0,31.2 C1866.7,30.6 1867.3,28.9 1867.8,30.5 C1868.2,32.1 1868.6,37.6 1869.0,42.5 C1869.4,47.4 1869.9,59.9 1870.2,65.0 C1870.6,70.1 1871.1,76.2 1871.5,78.8 C1871.9,81.3 1872.3,83.5 1872.8,83.0 C1873.2,82.5 1874.2,77.5 1874.8,75.0 C1875.3,72.5 1875.9,66.2 1876.5,65.0 C1877.1,63.8 1878.2,65.6 1879.0,66.2 C1879.8,66.9 1881.3,69.1 1882.0,69.2 C1882.7,69.4 1883.4,69.2 1884.0,67.5 C1884.6,65.8 1885.8,60.5 1886.5,57.5 C1887.2,54.5 1888.2,49.1 1889.0,46.2 C1889.8,43.4 1891.6,38.7 1892.0,37.5" fill="none" stroke="url(#fl)" stroke-width="2.7" stroke-linejoin="round" stroke-linecap="round" clip-path="url(#cf)"/>
<text x="117" y="37.6" text-anchor="end" font-size="18.0" fill="#949494">5</text>
<text x="117" y="76.35" text-anchor="end" font-size="18.0" fill="#949494">-10</text>
<text x="117" y="127.85" text-anchor="end" font-size="18.0" fill="#949494">-30</text>
<text transform="translate(73,56.8) rotate(-90)" text-anchor="middle" font-size="18.0" fill="#949494">Form</text>
</g>
<rect x="1910" y="0" width="3" height="31" fill="#c5e4f7"/>
<rect x="1910" y="31" width="3" height="39.5" fill="#efefef"/>
<rect x="1910" y="70.5" width="3" height="51.5" fill="#c8eccd"/>
<rect x="1910" y="122" width="3" height="17.5" fill="#f7bcbc"/>
<text x="1922.5" y="17.4" font-size="17.1" fill="#2ea3de">Fresh</text>
<text x="1922.5" y="56.8" font-size="17.0" fill="#8c8c8c">Grey Zone</text>
<text x="1922.3" y="101.5" font-size="17.7" fill="#33c844">Optimal</text>
<text x="1922.3" y="135.5" font-size="17.4" fill="#e02020">High Risk</text>
<g id="climb">
<rect x="122.0" y="289.53" width="1770.0" height="1" fill="#efefef"/>
<rect x="122.0" y="262.65999999999997" width="1770.0" height="1" fill="#efefef"/>
<rect x="122.0" y="235.78999999999996" width="1770.0" height="1" fill="#efefef"/>
<rect x="122.0" y="208.91999999999996" width="1770.0" height="1" fill="#efefef"/>
<rect x="122.0" y="182.04999999999998" width="1770.0" height="1" fill="#efefef"/>
<rect x="122.0" y="155.17999999999998" width="1770.0" height="1" fill="#efefef"/>
<rect x="121.5" y="151.5" width="1" height="165.5" fill="#dedede"/>
<rect x="1891.5" y="151.5" width="1" height="165.5" fill="#dedede"/>
<rect x="121.5" y="151.5" width="1771.0" height="1" fill="#dedede"/>
<g clip-path="url(#cc)">
<rect x="113" y="261.25" width="27" height="55.25" fill="#009a00"/>
<rect x="146.25" y="241.25" width="27" height="75.25" fill="#009a00"/>
<rect x="180.5" y="201" width="27" height="115.50" fill="#009a00"/>
<rect x="215" y="199.5" width="27" height="117.00" fill="#009a00"/>
<rect x="248.25" y="237" width="27" height="79.50" fill="#009a00"/>
<rect x="282.5" y="208.25" width="27" height="108.25" fill="#009a00"/>
<rect x="317" y="151.25" width="27" height="165.25" fill="#009a00"/>
<rect x="350" y="267" width="27" height="49.50" fill="#009a00"/>
<rect x="384.5" y="289.5" width="27" height="27.00" fill="#009a00"/>
<rect x="418.75" y="282" width="27" height="34.50" fill="#009a00"/>
<rect x="452.5" y="264" width="27" height="52.50" fill="#009a00"/>
<rect x="486.5" y="280.5" width="27" height="36.00" fill="#009a00"/>
<rect x="554" y="274.5" width="27" height="42.00" fill="#009a00"/>
<rect x="588.5" y="262.5" width="27" height="54.00" fill="#009a00"/>
<rect x="623" y="288.25" width="27" height="28.25" fill="#009a00"/>
<rect x="656.25" y="222" width="27" height="94.50" fill="#009a00"/>
<rect x="690.5" y="274.5" width="27" height="42.00" fill="#009a00"/>
<rect x="725" y="237" width="27" height="79.50" fill="#009a00"/>
<rect x="759.5" y="199.5" width="27" height="117.00" fill="#009a00"/>
<rect x="792.5" y="228.25" width="27" height="88.25" fill="#009a00"/>
<rect x="827" y="205.5" width="27" height="111.00" fill="#009a00"/>
<rect x="861.5" y="187.5" width="27" height="129.00" fill="#009a00"/>
<rect x="894.5" y="160.5" width="27" height="156.00" fill="#009a00"/>
<rect x="929" y="177" width="27" height="139.50" fill="#009a00"/>
<rect x="963.5" y="198.25" width="27" height="118.25" fill="#009a00"/>
<rect x="996.5" y="283.5" width="27" height="33.00" fill="#009a00"/>
<rect x="1031" y="229.5" width="27" height="87.00" fill="#009a00"/>
<rect x="1065.5" y="247.5" width="27" height="69.00" fill="#009a00"/>
<rect x="1098.5" y="244.5" width="27" height="72.00" fill="#009a00"/>
<rect x="1133" y="267" width="27" height="49.50" fill="#009a00"/>
<rect x="1167.5" y="234.25" width="27" height="82.25" fill="#009a00"/>
<rect x="1202" y="271.5" width="27" height="45.00" fill="#009a00"/>
<rect x="1235" y="304.5" width="27" height="12.00" fill="#009a00"/>
<rect x="1269.5" y="286.5" width="27" height="30.00" fill="#009a00"/>
<rect x="1304" y="276" width="27" height="40.50" fill="#009a00"/>
<rect x="1337" y="246" width="27" height="70.50" fill="#009a00"/>
<rect x="1371.5" y="285" width="27" height="31.50" fill="#009a00"/>
<rect x="1406" y="267" width="27" height="49.50" fill="#009a00"/>
<rect x="1440.5" y="252" width="27" height="64.50" fill="#009a00"/>
<rect x="1473.5" y="249" width="27" height="67.50" fill="#009a00"/>
<rect x="1508" y="298.5" width="27" height="18.00" fill="#009a00"/>
<rect x="1542.5" y="274.5" width="27" height="42.00" fill="#009a00"/>
<rect x="1575.5" y="220.5" width="27" height="96.00" fill="#009a00"/>
<rect x="1610" y="259.5" width="27" height="57.00" fill="#009a00"/>
<rect x="1644.5" y="262.5" width="27" height="54.00" fill="#009a00"/>
<rect x="1677.5" y="211.5" width="27" height="105.00" fill="#009a00"/>
<rect x="1712" y="216" width="27" height="100.50" fill="#009a00"/>
<rect x="1746.5" y="201" width="27" height="115.50" fill="#009a00"/>
<rect x="1779.5" y="238.5" width="27" height="78.00" fill="#009a00"/>
<rect x="1814" y="232.5" width="27" height="84.00" fill="#009a00"/>
<rect x="1848.5" y="225" width="27" height="91.50" fill="#009a00"/>
<rect x="1883" y="294" width="27" height="22.50" fill="#009a00"/>
</g>
<rect x="121.5" y="316.25" width="1771.0" height="1.2" fill="#d8d8d8"/>
<text x="117" y="322.7" text-anchor="end" font-size="18.0" fill="#949494">0</text>
<text x="117" y="295.8" text-anchor="end" font-size="18.0" fill="#949494">500</text>
<text x="117" y="268.9" text-anchor="end" font-size="18.0" fill="#949494">1000</text>
<text x="117" y="242.0" text-anchor="end" font-size="18.0" fill="#949494">1500</text>
<text x="117" y="215.2" text-anchor="end" font-size="18.0" fill="#949494">2000</text>
<text x="117" y="188.3" text-anchor="end" font-size="18.0" fill="#949494">2500</text>
<text x="117" y="161.4" text-anchor="end" font-size="18.0" fill="#949494">3000</text>
<text transform="translate(70,234) rotate(-90)" text-anchor="middle" font-size="18.0" fill="#949494">Climbing</text>
</g>
<g id="z">
<rect x="122.0" y="472.53" width="1770.0" height="1" fill="#efefef"/>
<rect x="122.0" y="452.31" width="1770.0" height="1" fill="#efefef"/>
<rect x="122.0" y="432.09000000000003" width="1770.0" height="1" fill="#efefef"/>
<rect x="122.0" y="411.87" width="1770.0" height="1" fill="#efefef"/>
<rect x="122.0" y="391.65" width="1770.0" height="1" fill="#efefef"/>
<rect x="122.0" y="371.43" width="1770.0" height="1" fill="#efefef"/>
<rect x="122.0" y="351.21000000000004" width="1770.0" height="1" fill="#efefef"/>
<rect x="122.0" y="330.99" width="1770.0" height="1" fill="#efefef"/>
<rect x="121.5" y="329.0" width="1" height="164.75" fill="#dedede"/>
<rect x="1891.5" y="329.0" width="1" height="164.75" fill="#dedede"/>
<rect x="121.5" y="329.0" width="1771.0" height="1" fill="#dedede"/>
<g clip-path="url(#cz)">
<rect x="113" y="423" width="27" height="70.55" fill="#009a00"/>
<rect x="113" y="382.5" width="27" height="40.50" fill="#ffae00"/>
<rect x="113" y="380.75" width="27" height="1.75" fill="#d52b2b"/>
<rect x="146.25" y="447" width="27" height="46.55" fill="#009a00"/>
<rect x="146.25" y="405" width="27" height="42.00" fill="#ffae00"/>
<rect x="180.5" y="403.75" width="27" height="89.80" fill="#009a00"/>
<rect x="180.5" y="361.25" width="27" height="42.50" fill="#ffae00"/>
<rect x="215" y="445.75" width="27" height="47.80" fill="#009a00"/>
<rect x="215" y="398.75" width="27" height="47.00" fill="#ffae00"/>
<rect x="215" y="397.25" width="27" height="1.50" fill="#d52b2b"/>
<rect x="248.25" y="444" width="27" height="49.55" fill="#009a00"/>
<rect x="248.25" y="400.5" width="27" height="43.50" fill="#ffae00"/>
<rect x="282.5" y="468" width="27" height="25.55" fill="#009a00"/>
<rect x="282.5" y="429" width="27" height="39.00" fill="#ffae00"/>
<rect x="317" y="388.75" width="27" height="104.80" fill="#009a00"/>
<rect x="317" y="328.25" width="27" height="60.50" fill="#ffae00"/>
<rect x="350" y="441" width="27" height="52.55" fill="#009a00"/>
<rect x="350" y="409.25" width="27" height="31.75" fill="#ffae00"/>
<rect x="384.5" y="445.75" width="27" height="47.80" fill="#009a00"/>
<rect x="384.5" y="415.5" width="27" height="30.25" fill="#ffae00"/>
<rect x="418.75" y="470" width="27" height="23.55" fill="#009a00"/>
<rect x="418.75" y="432" width="27" height="38.00" fill="#ffae00"/>
<rect x="418.75" y="420" width="27" height="12.00" fill="#d52b2b"/>
<rect x="554" y="460.75" width="27" height="32.80" fill="#009a00"/>
<rect x="554" y="450" width="27" height="10.75" fill="#ffae00"/>
<rect x="588.5" y="477" width="27" height="16.55" fill="#009a00"/>
<rect x="588.5" y="475.5" width="27" height="1.50" fill="#ffae00"/>
<rect x="623" y="471" width="27" height="22.55" fill="#009a00"/>
<rect x="623" y="447" width="27" height="24.00" fill="#ffae00"/>
<rect x="656.25" y="415.75" width="27" height="77.80" fill="#009a00"/>
<rect x="656.25" y="396" width="27" height="19.75" fill="#ffae00"/>
<rect x="690.5" y="472.75" width="27" height="20.80" fill="#009a00"/>
<rect x="690.5" y="455.75" width="27" height="17.00" fill="#ffae00"/>
<rect x="690.5" y="453" width="27" height="2.75" fill="#d52b2b"/>
<rect x="725" y="432" width="27" height="61.55" fill="#009a00"/>
<rect x="725" y="400.5" width="27" height="31.50" fill="#ffae00"/>
<rect x="725" y="399" width="27" height="1.50" fill="#d52b2b"/>
<rect x="759.5" y="427.75" width="27" height="65.80" fill="#009a00"/>
<rect x="759.5" y="385.5" width="27" height="42.25" fill="#ffae00"/>
<rect x="792.5" y="451.5" width="27" height="42.05" fill="#009a00"/>
<rect x="792.5" y="391.5" width="27" height="60.00" fill="#ffae00"/>
<rect x="827" y="447" width="27" height="46.55" fill="#009a00"/>
<rect x="827" y="430.5" width="27" height="16.50" fill="#ffae00"/>
<rect x="861.5" y="430.75" width="27" height="62.80" fill="#009a00"/>
<rect x="861.5" y="388.25" width="27" height="42.50" fill="#ffae00"/>
<rect x="894.5" y="475.5" width="27" height="18.05" fill="#009a00"/>
<rect x="894.5" y="474" width="27" height="1.50" fill="#ffae00"/>
<rect x="929" y="492" width="27" height="1.55" fill="#009a00"/>
<rect x="929" y="478.25" width="27" height="13.75" fill="#ffae00"/>
<rect x="929" y="477" width="27" height="1.25" fill="#d52b2b"/>
<rect x="963.5" y="447" width="27" height="46.55" fill="#009a00"/>
<rect x="963.5" y="399" width="27" height="48.00" fill="#ffae00"/>
<rect x="963.5" y="393" width="27" height="6.00" fill="#d52b2b"/>
<rect x="996.5" y="460.75" width="27" height="32.80" fill="#009a00"/>
<rect x="996.5" y="450" width="27" height="10.75" fill="#ffae00"/>
<rect x="996.5" y="448.5" width="27" height="1.50" fill="#d52b2b"/>
<rect x="1031" y="421.75" width="27" height="71.80" fill="#009a00"/>
<rect x="1031" y="378" width="27" height="43.75" fill="#ffae00"/>
<rect x="1065.5" y="388.75" width="27" height="104.80" fill="#009a00"/>
<rect x="1065.5" y="364.5" width="27" height="24.25" fill="#ffae00"/>
<rect x="1065.5" y="363.25" width="27" height="1.25" fill="#d52b2b"/>
<rect x="1098.5" y="393" width="27" height="100.55" fill="#009a00"/>
<rect x="1098.5" y="384.25" width="27" height="8.75" fill="#ffae00"/>
<rect x="1133" y="432" width="27" height="61.55" fill="#009a00"/>
<rect x="1133" y="423" width="27" height="9.00" fill="#ffae00"/>
<rect x="1167.5" y="399" width="27" height="94.55" fill="#009a00"/>
<rect x="1167.5" y="392.75" width="27" height="6.25" fill="#ffae00"/>
<rect x="1167.5" y="391.5" width="27" height="1.25" fill="#d52b2b"/>
<rect x="1202" y="454.75" width="27" height="38.80" fill="#009a00"/>
<rect x="1202" y="453" width="27" height="1.75" fill="#ffae00"/>
<rect x="1235" y="419.75" width="27" height="73.80" fill="#009a00"/>
<rect x="1235" y="418.5" width="27" height="1.25" fill="#d52b2b"/>
<rect x="1269.5" y="435" width="27" height="58.55" fill="#009a00"/>
<rect x="1269.5" y="430.5" width="27" height="4.50" fill="#ffae00"/>
<rect x="1304" y="421.75" width="27" height="71.80" fill="#009a00"/>
<rect x="1304" y="415.5" width="27" height="6.25" fill="#ffae00"/>
<rect x="1337" y="441" width="27" height="52.55" fill="#009a00"/>
<rect x="1337" y="432" width="27" height="9.00" fill="#ffae00"/>
<rect x="1371.5" y="439.75" width="27" height="53.80" fill="#009a00"/>
<rect x="1371.5" y="433.5" width="27" height="6.25" fill="#ffae00"/>
<rect x="1406" y="442.75" width="27" height="50.80" fill="#009a00"/>
<rect x="1406" y="438" width="27" height="4.75" fill="#ffae00"/>
<rect x="1440.5" y="408" width="27" height="85.55" fill="#009a00"/>
<rect x="1440.5" y="405" width="27" height="3.00" fill="#ffae00"/>
<rect x="1473.5" y="414" width="27" height="79.55" fill="#009a00"/>
<rect x="1473.5" y="412.5" width="27" height="1.50" fill="#ffae00"/>
<rect x="1508" y="453" width="27" height="40.55" fill="#009a00"/>
<rect x="1508" y="438" width="27" height="15.00" fill="#ffae00"/>
<rect x="1542.5" y="418.75" width="27" height="74.80" fill="#009a00"/>
<rect x="1542.5" y="408" width="27" height="10.75" fill="#ffae00"/>
<rect x="1575.5" y="448.5" width="27" height="45.05" fill="#009a00"/>
<rect x="1610" y="411" width="27" height="82.55" fill="#009a00"/>
<rect x="1610" y="406.5" width="27" height="4.50" fill="#ffae00"/>
<rect x="1644.5" y="417" width="27" height="76.55" fill="#009a00"/>
<rect x="1677.5" y="381" width="27" height="112.55" fill="#009a00"/>
<rect x="1677.5" y="360" width="27" height="21.00" fill="#ffae00"/>
<rect x="1677.5" y="357.25" width="27" height="2.75" fill="#d52b2b"/>
<rect x="1712" y="364.75" width="27" height="128.80" fill="#009a00"/>
<rect x="1712" y="363.25" width="27" height="1.50" fill="#ffae00"/>
<rect x="1746.5" y="370.75" width="27" height="122.80" fill="#009a00"/>
<rect x="1746.5" y="364.5" width="27" height="6.25" fill="#ffae00"/>
<rect x="1779.5" y="413" width="27" height="80.55" fill="#009a00"/>
<rect x="1779.5" y="408" width="27" height="5.00" fill="#ffae00"/>
<rect x="1779.5" y="405.25" width="27" height="2.75" fill="#d52b2b"/>
<rect x="1814" y="394.75" width="27" height="98.80" fill="#009a00"/>
<rect x="1814" y="384" width="27" height="10.75" fill="#ffae00"/>
<rect x="1814" y="382.5" width="27" height="1.50" fill="#d52b2b"/>
<rect x="1848.5" y="432" width="27" height="61.55" fill="#009a00"/>
<rect x="1848.5" y="424.5" width="27" height="7.50" fill="#ffae00"/>
<rect x="1848.5" y="423" width="27" height="1.50" fill="#d52b2b"/>
<rect x="1883" y="468" width="27" height="25.55" fill="#009a00"/>
</g>
<rect x="121.5" y="493.3" width="1771.0" height="1.2" fill="#d8d8d8"/>
<text x="117" y="499.1" text-anchor="end" font-size="18.0" fill="#949494">0</text>
<text x="117" y="478.9" text-anchor="end" font-size="18.0" fill="#949494">1</text>
<text x="117" y="458.7" text-anchor="end" font-size="18.0" fill="#949494">2</text>
<text x="117" y="438.4" text-anchor="end" font-size="18.0" fill="#949494">3</text>
<text x="117" y="418.2" text-anchor="end" font-size="18.0" fill="#949494">4</text>
<text x="117" y="398.0" text-anchor="end" font-size="18.0" fill="#949494">5</text>
<text x="117" y="377.8" text-anchor="end" font-size="18.0" fill="#949494">6</text>
<text x="117" y="357.6" text-anchor="end" font-size="18.0" fill="#949494">7</text>
<text x="117" y="336.2" text-anchor="end" font-size="18.0" fill="#949494">8</text>
<text transform="translate(73,411.4) rotate(-90)" text-anchor="middle" font-size="18.0" fill="#949494">Z1+2 / Z3+4 / Z5+</text>
</g>
<g id="hr">
<rect x="122.0" y="649.53" width="1770.0" height="1" fill="#efefef"/>
<rect x="122.0" y="629.31" width="1770.0" height="1" fill="#efefef"/>
<rect x="122.0" y="609.09" width="1770.0" height="1" fill="#efefef"/>
<rect x="122.0" y="588.87" width="1770.0" height="1" fill="#efefef"/>
<rect x="122.0" y="568.65" width="1770.0" height="1" fill="#efefef"/>
<rect x="122.0" y="548.4300000000001" width="1770.0" height="1" fill="#efefef"/>
<rect x="122.0" y="528.21" width="1770.0" height="1" fill="#efefef"/>
<rect x="122.0" y="507.99" width="1770.0" height="1" fill="#efefef"/>
<rect x="121.5" y="506.0" width="1" height="164.75" fill="#dedede"/>
<rect x="1891.5" y="506.0" width="1" height="164.75" fill="#dedede"/>
<rect x="121.5" y="506.0" width="1771.0" height="1" fill="#dedede"/>
<g clip-path="url(#ch)">
<rect x="113" y="600" width="27" height="70.55" fill="#009a00"/>
<rect x="113" y="559.5" width="27" height="40.50" fill="#ffae00"/>
<rect x="113" y="557.75" width="27" height="1.75" fill="#d52b2b"/>
<rect x="146.25" y="624" width="27" height="46.55" fill="#009a00"/>
<rect x="146.25" y="582" width="27" height="42.00" fill="#ffae00"/>
<rect x="180.5" y="580.75" width="27" height="89.80" fill="#009a00"/>
<rect x="180.5" y="538.25" width="27" height="42.50" fill="#ffae00"/>
<rect x="215" y="622.75" width="27" height="47.80" fill="#009a00"/>
<rect x="215" y="575.75" width="27" height="47.00" fill="#ffae00"/>
<rect x="215" y="574.25" width="27" height="1.50" fill="#d52b2b"/>
<rect x="248.25" y="621" width="27" height="49.55" fill="#009a00"/>
<rect x="248.25" y="577.5" width="27" height="43.50" fill="#ffae00"/>
<rect x="282.5" y="645" width="27" height="25.55" fill="#009a00"/>
<rect x="282.5" y="606" width="27" height="39.00" fill="#ffae00"/>
<rect x="317" y="565.75" width="27" height="104.80" fill="#009a00"/>
<rect x="317" y="505.25" width="27" height="60.50" fill="#ffae00"/>
<rect x="350" y="618" width="27" height="52.55" fill="#009a00"/>
<rect x="350" y="586.25" width="27" height="31.75" fill="#ffae00"/>
<rect x="384.5" y="622.75" width="27" height="47.80" fill="#009a00"/>
<rect x="384.5" y="592.5" width="27" height="30.25" fill="#ffae00"/>
<rect x="418.75" y="647" width="27" height="23.55" fill="#009a00"/>
<rect x="418.75" y="609" width="27" height="38.00" fill="#ffae00"/>
<rect x="418.75" y="597" width="27" height="12.00" fill="#d52b2b"/>
<rect x="554" y="637.75" width="27" height="32.80" fill="#009a00"/>
<rect x="554" y="627" width="27" height="10.75" fill="#ffae00"/>
<rect x="588.5" y="654" width="27" height="16.55" fill="#009a00"/>
<rect x="588.5" y="652.5" width="27" height="1.50" fill="#ffae00"/>
<rect x="623" y="648" width="27" height="22.55" fill="#009a00"/>
<rect x="623" y="624" width="27" height="24.00" fill="#ffae00"/>
<rect x="656.25" y="592.75" width="27" height="77.80" fill="#009a00"/>
<rect x="656.25" y="573" width="27" height="19.75" fill="#ffae00"/>
<rect x="690.5" y="649.75" width="27" height="20.80" fill="#009a00"/>
<rect x="690.5" y="632.75" width="27" height="17.00" fill="#ffae00"/>
<rect x="690.5" y="630" width="27" height="2.75" fill="#d52b2b"/>
<rect x="725" y="609" width="27" height="61.55" fill="#009a00"/>
<rect x="725" y="577.5" width="27" height="31.50" fill="#ffae00"/>
<rect x="725" y="576" width="27" height="1.50" fill="#d52b2b"/>
<rect x="759.5" y="604.75" width="27" height="65.80" fill="#009a00"/>
<rect x="759.5" y="562.5" width="27" height="42.25" fill="#ffae00"/>
<rect x="792.5" y="628.5" width="27" height="42.05" fill="#009a00"/>
<rect x="792.5" y="568.5" width="27" height="60.00" fill="#ffae00"/>
<rect x="827" y="624" width="27" height="46.55" fill="#009a00"/>
<rect x="827" y="607.5" width="27" height="16.50" fill="#ffae00"/>
<rect x="861.5" y="607.75" width="27" height="62.80" fill="#009a00"/>
<rect x="861.5" y="565.25" width="27" height="42.50" fill="#ffae00"/>
<rect x="894.5" y="652.5" width="27" height="18.05" fill="#009a00"/>
<rect x="894.5" y="651" width="27" height="1.50" fill="#ffae00"/>
<rect x="929" y="669" width="27" height="1.55" fill="#009a00"/>
<rect x="929" y="655.25" width="27" height="13.75" fill="#ffae00"/>
<rect x="929" y="654" width="27" height="1.25" fill="#d52b2b"/>
<rect x="963.5" y="624" width="27" height="46.55" fill="#009a00"/>
<rect x="963.5" y="576" width="27" height="48.00" fill="#ffae00"/>
<rect x="963.5" y="570" width="27" height="6.00" fill="#d52b2b"/>
<rect x="996.5" y="637.75" width="27" height="32.80" fill="#009a00"/>
<rect x="996.5" y="627" width="27" height="10.75" fill="#ffae00"/>
<rect x="996.5" y="625.5" width="27" height="1.50" fill="#d52b2b"/>
<rect x="1031" y="598.75" width="27" height="71.80" fill="#009a00"/>
<rect x="1031" y="555" width="27" height="43.75" fill="#ffae00"/>
<rect x="1065.5" y="565.75" width="27" height="104.80" fill="#009a00"/>
<rect x="1065.5" y="541.5" width="27" height="24.25" fill="#ffae00"/>
<rect x="1065.5" y="540.25" width="27" height="1.25" fill="#d52b2b"/>
<rect x="1098.5" y="594" width="27" height="76.55" fill="#009a00"/>
<rect x="1098.5" y="561" width="27" height="33.00" fill="#ffae00"/>
<rect x="1133" y="636" width="27" height="34.55" fill="#009a00"/>
<rect x="1133" y="601.25" width="27" height="34.75" fill="#ffae00"/>
<rect x="1133" y="600" width="27" height="1.25" fill="#d52b2b"/>
<rect x="1167.5" y="640.75" width="27" height="29.80" fill="#009a00"/>
<rect x="1167.5" y="569.75" width="27" height="71.00" fill="#ffae00"/>
<rect x="1167.5" y="568.5" width="27" height="1.25" fill="#d52b2b"/>
<rect x="1202" y="648" width="27" height="22.55" fill="#009a00"/>
<rect x="1202" y="631.25" width="27" height="16.75" fill="#ffae00"/>
<rect x="1202" y="630" width="27" height="1.25" fill="#d52b2b"/>
<rect x="1235" y="600" width="27" height="70.55" fill="#009a00"/>
<rect x="1235" y="595.5" width="27" height="4.50" fill="#ffae00"/>
<rect x="1269.5" y="627" width="27" height="43.55" fill="#009a00"/>
<rect x="1269.5" y="608.75" width="27" height="18.25" fill="#ffae00"/>
<rect x="1269.5" y="607.5" width="27" height="1.25" fill="#d52b2b"/>
<rect x="1304" y="613.75" width="27" height="56.80" fill="#009a00"/>
<rect x="1304" y="592.5" width="27" height="21.25" fill="#ffae00"/>
<rect x="1337" y="647" width="27" height="23.55" fill="#009a00"/>
<rect x="1337" y="612" width="27" height="35.00" fill="#ffae00"/>
<rect x="1337" y="609" width="27" height="3.00" fill="#d52b2b"/>
<rect x="1371.5" y="633.25" width="27" height="37.30" fill="#009a00"/>
<rect x="1371.5" y="615" width="27" height="18.25" fill="#ffae00"/>
<rect x="1371.5" y="610.5" width="27" height="4.50" fill="#d52b2b"/>
<rect x="1406" y="648" width="27" height="22.55" fill="#009a00"/>
<rect x="1406" y="616.5" width="27" height="31.50" fill="#ffae00"/>
<rect x="1406" y="615" width="27" height="1.50" fill="#d52b2b"/>
<rect x="1440.5" y="607.75" width="27" height="62.80" fill="#009a00"/>
<rect x="1440.5" y="582" width="27" height="25.75" fill="#ffae00"/>
<rect x="1473.5" y="617" width="27" height="53.55" fill="#009a00"/>
<rect x="1473.5" y="589.5" width="27" height="27.50" fill="#ffae00"/>
<rect x="1508" y="635" width="27" height="35.55" fill="#009a00"/>
<rect x="1508" y="618" width="27" height="17.00" fill="#ffae00"/>
<rect x="1508" y="615.25" width="27" height="2.75" fill="#d52b2b"/>
<rect x="1542.5" y="598.75" width="27" height="71.80" fill="#009a00"/>
<rect x="1542.5" y="588" width="27" height="10.75" fill="#ffae00"/>
<rect x="1542.5" y="585" width="27" height="3.00" fill="#d52b2b"/>
<rect x="1575.5" y="626.75" width="27" height="43.80" fill="#009a00"/>
<rect x="1575.5" y="625.5" width="27" height="1.25" fill="#ffae00"/>
<rect x="1610" y="615" width="27" height="55.55" fill="#009a00"/>
<rect x="1610" y="583.5" width="27" height="31.50" fill="#ffae00"/>
<rect x="1644.5" y="618" width="27" height="52.55" fill="#009a00"/>
<rect x="1644.5" y="594" width="27" height="24.00" fill="#ffae00"/>
<rect x="1677.5" y="595.75" width="27" height="74.80" fill="#009a00"/>
<rect x="1677.5" y="554.75" width="27" height="41.00" fill="#ffae00"/>
<rect x="1677.5" y="553.5" width="27" height="1.25" fill="#d52b2b"/>
<rect x="1712" y="564" width="27" height="106.55" fill="#009a00"/>
<rect x="1712" y="540" width="27" height="24.00" fill="#ffae00"/>
<rect x="1746.5" y="579" width="27" height="91.55" fill="#009a00"/>
<rect x="1746.5" y="542.75" width="27" height="36.25" fill="#ffae00"/>
<rect x="1746.5" y="541.5" width="27" height="1.25" fill="#d52b2b"/>
<rect x="1779.5" y="594" width="27" height="76.55" fill="#009a00"/>
<rect x="1779.5" y="585" width="27" height="9.00" fill="#ffae00"/>
<rect x="1779.5" y="582" width="27" height="3.00" fill="#d52b2b"/>
<rect x="1814" y="595.75" width="27" height="74.80" fill="#009a00"/>
<rect x="1814" y="560.75" width="27" height="35.00" fill="#ffae00"/>
<rect x="1814" y="559.5" width="27" height="1.25" fill="#d52b2b"/>
<rect x="1848.5" y="654" width="27" height="16.55" fill="#009a00"/>
<rect x="1848.5" y="607.5" width="27" height="46.50" fill="#ffae00"/>
<rect x="1848.5" y="600" width="27" height="7.50" fill="#d52b2b"/>
<rect x="1883" y="648" width="27" height="22.55" fill="#009a00"/>
<rect x="1883" y="645.25" width="27" height="2.75" fill="#ffae00"/>
</g>
<rect x="121.5" y="670.3" width="1771.0" height="1.2" fill="#d8d8d8"/>
<text x="117" y="676.1" text-anchor="end" font-size="18.0" fill="#949494">0</text>
<text x="117" y="655.9" text-anchor="end" font-size="18.0" fill="#949494">1</text>
<text x="117" y="635.7" text-anchor="end" font-size="18.0" fill="#949494">2</text>
<text x="117" y="615.4" text-anchor="end" font-size="18.0" fill="#949494">3</text>
<text x="117" y="595.2" text-anchor="end" font-size="18.0" fill="#949494">4</text>
<text x="117" y="575.0" text-anchor="end" font-size="18.0" fill="#949494">5</text>
<text x="117" y="554.8" text-anchor="end" font-size="18.0" fill="#949494">6</text>
<text x="117" y="534.6" text-anchor="end" font-size="18.0" fill="#949494">7</text>
<text x="117" y="513.1" text-anchor="end" font-size="18.0" fill="#949494">8</text>
<text transform="translate(73,588.4) rotate(-90)" text-anchor="middle" font-size="18.0" fill="#949494">HR1+2 / HR3+4 /...</text>
</g>
<rect x="121.5" y="670.5" width="1" height="9" fill="#e4e4e4"/>
<text x="121.9" y="697" text-anchor="middle" font-size="18.0" fill="#949494">March</text>
<rect x="272.0" y="670.5" width="1" height="9" fill="#e4e4e4"/>
<text x="272.4" y="697" text-anchor="middle" font-size="18.0" fill="#949494">April</text>
<rect x="418.75" y="670.5" width="1" height="9" fill="#e4e4e4"/>
<text x="419.15" y="697" text-anchor="middle" font-size="18.0" fill="#949494">May</text>
<rect x="568.75" y="670.5" width="1" height="9" fill="#e4e4e4"/>
<text x="569.15" y="697" text-anchor="middle" font-size="18.0" fill="#949494">June</text>
<rect x="714.5" y="670.5" width="1" height="9" fill="#e4e4e4"/>
<text x="714.9" y="697" text-anchor="middle" font-size="18.0" fill="#949494">July</text>
<rect x="865.75" y="670.5" width="1" height="9" fill="#e4e4e4"/>
<text x="866.15" y="697" text-anchor="middle" font-size="18.0" fill="#949494">August</text>
<rect x="1016.25" y="670.5" width="1" height="9" fill="#e4e4e4"/>
<text x="1016.65" y="697" text-anchor="middle" font-size="18.0" fill="#949494">September</text>
<rect x="1163.25" y="670.5" width="1" height="9" fill="#e4e4e4"/>
<text x="1163.65" y="697" text-anchor="middle" font-size="18.0" fill="#949494">October</text>
<rect x="1313.25" y="670.5" width="1" height="9" fill="#e4e4e4"/>
<text x="1313.65" y="697" text-anchor="middle" font-size="18.0" fill="#949494">November</text>
<rect x="1458.75" y="670.5" width="1" height="9" fill="#e4e4e4"/>
<text x="1459.15" y="697" text-anchor="middle" font-size="18.0" fill="#949494">December</text>
<rect x="1610.25" y="670.5" width="1" height="9" fill="#e4e4e4"/>
<text x="1610.65" y="697" text-anchor="middle" font-size="18.0" fill="#949494">2024</text>
<rect x="1760.25" y="670.5" width="1" height="9" fill="#e4e4e4"/>
<text x="1760.65" y="697" text-anchor="middle" font-size="18.0" fill="#949494">February</text>
<rect x="1424.5" y="680" width="119.5" height="26" fill="#fff"/>
<text x="1484.4" y="697.5" text-anchor="middle" font-size="17.2" stroke="#5a5a5a" stroke-width="0.6" fill="#5a5a5a">Wed 06 Dec</text>
<rect x="1483.5" y="0" width="1.6" height="670.5" fill="#484848"/>
<text x="1981" y="224.75" text-anchor="middle" font-size="18.1" fill="#6a6a6a">Climbing</text>
<text x="1981.4" y="250.6" text-anchor="middle" font-size="20" letter-spacing="0.85" stroke="#009a00" stroke-width="0.65" fill="#009a00">1250 m</text>
<text x="1981" y="317.5" text-anchor="middle" font-size="18.1" fill="#6a6a6a">Z1+2</text>
<text x="1981.4" y="343.6" text-anchor="middle" font-size="20" letter-spacing="0.85" stroke="#009a00" stroke-width="0.65" fill="#009a00">3h55m</text>
<text x="1981" y="365.3" text-anchor="middle" font-size="16.6" fill="#009a00">99%</text>
<text x="1981" y="392.7" text-anchor="middle" font-size="18.1" fill="#6a6a6a">Z3+4</text>
<text x="1981.4" y="418.8" text-anchor="middle" font-size="20" letter-spacing="0.85" stroke="#ffae00" stroke-width="0.65" fill="#ffae00">2m</text>
<text x="1981" y="440.5" text-anchor="middle" font-size="16.6" fill="#ffae00">1%</text>
<text x="1981" y="467.9" text-anchor="middle" font-size="18.1" fill="#6a6a6a">Z5+</text>
<text x="1981.4" y="494.0" text-anchor="middle" font-size="20" letter-spacing="0.85" stroke="#d32323" stroke-width="0.65" fill="#d32323">0m</text>
<text x="1981" y="515.6999999999999" text-anchor="middle" font-size="16.6" fill="#d32323">0%</text>
<text x="1981" y="495.0" text-anchor="middle" font-size="17.3" fill="#6a6a6a">HR1+2</text>
<text x="1981.4" y="520.7" text-anchor="middle" font-size="20" letter-spacing="0.85" stroke="#009a00" stroke-width="0.65" fill="#009a00">2h37m</text>
<text x="1981" y="542.6" text-anchor="middle" font-size="16.6" fill="#009a00">66%</text>
<text x="1981" y="570.2" text-anchor="middle" font-size="17.3" fill="#6a6a6a">HR3+4</text>
<text x="1981.4" y="595.9000000000001" text-anchor="middle" font-size="20" letter-spacing="0.85" stroke="#ffae00" stroke-width="0.65" fill="#ffae00">1h20m</text>
<text x="1981" y="617.8000000000001" text-anchor="middle" font-size="16.6" fill="#ffae00">34%</text>
<text x="1981" y="645.4" text-anchor="middle" font-size="17.3" fill="#6a6a6a">HR5+</text>
<text x="1981.4" y="671.1" text-anchor="middle" font-size="20" letter-spacing="0.85" stroke="#d32323" stroke-width="0.65" fill="#d32323">0m</text>
<text x="1981" y="693.0" text-anchor="middle" font-size="16.6" fill="#d32323">0%</text>
</svg>
</body></html>
